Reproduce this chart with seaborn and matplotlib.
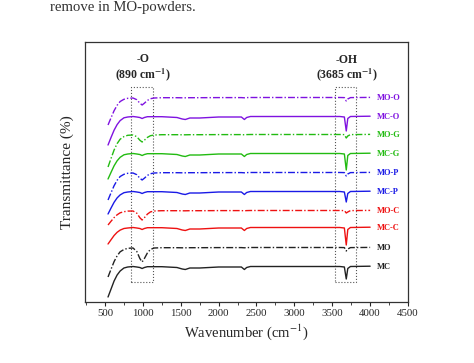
import numpy as np
import pandas as pd
import matplotlib
matplotlib.use("Agg")
import matplotlib.pyplot as plt
from matplotlib.patches import Rectangle
from matplotlib.ticker import MultipleLocator
import seaborn as sns

# wavenumber grid (cm-1) shared by all spectra
wavenumber = [540, 580, 620, 660, 700, 750, 800, 870, 920, 960, 990, 1020, 1060, 1100, 1150,
              1250, 1450, 1520, 1560, 1620, 1750, 2000, 2300, 2340, 2370, 2420, 3000, 3600,
              3660, 3685, 3705, 3740, 4000]

# stacked transmittance (arbitrary units, offset spectra)
mc = [5, 13, 21, 27, 31, 34, 35, 35.5, 35, 34.5, 33.5, 34.5, 35.3, 35.3, 35.3,
      35.3, 34.5, 33, 32.5, 34, 34, 35, 35, 32.5, 34.5, 35.5, 35.5, 35.5,
      35, 23, 33.5, 35.5, 35.8]
mo = [25, 32.8, 40.4, 46.2, 50.2, 52.5, 53.7, 54, 50.5, 43.5, 40, 43.5, 49.1, 52.6, 54,
      54.3, 54.3, 54.2, 54.2, 54.3, 54.3, 54.4, 54.4, 54.2, 54.4, 54.5, 54.5, 54.5,
      54.4, 51, 53, 54.4, 54.6]
mc_c = [58, 62.3, 66.5, 69.7, 71.9, 73.5, 74, 74.5, 74, 73.5, 72.5, 73.5, 74.3, 74.3, 74.3,
        74.3, 73.5, 72, 71.5, 73, 73, 74, 74, 71.5, 73.5, 74.5, 74.5, 74.5,
        74, 57, 72.5, 74.5, 74.8]
mo_c = [77, 80.8, 84.4, 87.2, 89.2, 90.3, 90.9, 91, 88.8, 84.3, 82, 84.3, 87.9, 90.1, 91,
        91.3, 91.3, 91.2, 91.2, 91.3, 91.3, 91.4, 91.4, 91.2, 91.4, 91.5, 91.5, 91.5,
        91.4, 89, 90, 91.4, 91.6]
mc_p = [88, 94, 99.7, 104.1, 107.1, 109.3, 110, 110.5, 110, 109.5, 108.5, 109.5, 110.3, 110.3, 110.3,
        110.3, 109.5, 108, 107.5, 109, 109, 110, 110, 107.5, 109.5, 110.5, 110.5, 110.5,
        110, 100, 108.5, 110.5, 110.8]
mo_p = [102, 109.3, 116.3, 121.7, 125.5, 127.7, 128.7, 129, 127.3, 123.8, 122, 123.8, 126.6, 128.3, 129,
        129.3, 129.3, 129.2, 129.2, 129.3, 129.3, 129.4, 129.4, 129.2, 129.4, 129.5, 129.5, 129.5,
        129.4, 126, 128, 129.4, 129.6]
mc_g = [123, 129.7, 136.2, 141.2, 144.7, 147.2, 148, 148.5, 148, 147.5, 146.5, 147.5, 148.3, 148.3, 148.3,
        148.3, 147.5, 146, 145.5, 147, 147, 148, 148, 145.5, 147.5, 148.5, 148.5, 148.5,
        148, 132, 146.5, 148.5, 148.8]
mo_g = [135, 143.6, 152, 158.4, 162.8, 165.4, 166.7, 167, 165.3, 161.8, 160, 161.8, 164.6, 166.3, 167,
        167.3, 167.3, 167.2, 167.2, 167.3, 167.3, 167.4, 167.4, 167.2, 167.4, 167.5, 167.5, 167.5,
        167.4, 164, 166, 167.4, 167.6]
mc_o = [157, 164.6, 171.8, 177.4, 181.4, 184.2, 185, 185.5, 185, 184.5, 183.5, 184.5, 185.3, 185.3, 185.3,
        185.3, 184.5, 183, 182.5, 184, 184, 185, 185, 182.5, 184.5, 185.5, 185.5, 185.5,
        185, 171, 183.5, 185.5, 185.8]
mo_o = [177, 184.3, 191.3, 196.7, 200.5, 202.7, 203.7, 204, 202.3, 198.8, 197, 198.8, 201.6, 203.3, 204,
        204.3, 204.3, 204.2, 204.2, 204.3, 204.3, 204.4, 204.4, 204.2, 204.4, 204.5, 204.5, 204.5,
        204.4, 201, 203, 204.4, 204.6]

names = ["MC", "MO", "MC-C", "MO-C", "MC-P", "MO-P", "MC-G", "MO-G", "MC-O", "MO-O"]
series = [mc, mo, mc_c, mo_c, mc_p, mo_p, mc_g, mo_g, mc_o, mo_o]
label_y = [35, 54, 74, 91, 110, 129, 148, 167, 185, 204]
colors = ["#222222", "#222222", "#ee1111", "#ee1111", "#1a1ae6", "#1a1ae6",
          "#22bb11", "#22bb11", "#7f12e0", "#7f12e0"]

sns.set_style("ticks")
plt.rcParams['font.family'] = ['Liberation Serif', 'DejaVu Serif']
plt.rcParams['mathtext.fontset'] = 'stix'

fig = plt.figure(figsize=(4.74, 3.63), dpi=100)
ax = fig.add_axes([85 / 474, 1 - 302 / 363, 323 / 474, 260 / 363])

for name, vals, col in zip(names, series, colors):
    d = pd.DataFrame({'wn': wavenumber, 't': vals})
    ls = '-' if name.startswith('MC') else (0, (5, 1.5, 1, 1.5))
    sns.lineplot(data=d, x='wn', y='t', ax=ax, color=col, linewidth=1.0, linestyle=ls)

for name, y, col in zip(names, label_y, colors):
    ax.text(4090, y, name, color=col, fontsize=6, fontweight='bold', va='center', ha='left')

# dotted boxes around the two bands
for x0, x1 in [(843, 1130), (3534, 3807)]:
    ax.add_patch(Rectangle((x0, 20), x1 - x0, 195, fill=False, edgecolor='#555555',
                           linestyle=':', linewidth=0.8))

ax.text(1000, 243, '-O', ha='center', va='center', fontsize=8.5, fontweight='bold')
ax.text(1000, 227, r'(890 cm$^{\mathbf{-1}}$)', ha='center', va='center', fontsize=8.5, fontweight='bold')
ax.text(3690, 242, '-OH', ha='center', va='center', fontsize=8.5, fontweight='bold')
ax.text(3690, 227, r'(3685 cm$^{\mathbf{-1}}$)', ha='center', va='center', fontsize=8.5, fontweight='bold')

ax.set_xlim(236, 4500)
ax.set_ylim(0, 260)
ax.xaxis.set_major_locator(MultipleLocator(500))
ax.xaxis.set_minor_locator(MultipleLocator(250))
ax.tick_params(axis='x', which='major', labelsize=7.8, length=3, width=0.8, pad=2)
ax.tick_params(axis='x', which='minor', length=2, width=0.6)
ax.set_yticks([])
ax.set_xlabel(r'Wavenumber (cm$^{-1}$)', fontsize=10.5, labelpad=3)
ax.set_ylabel('Transmittance (%)', fontsize=11, labelpad=8)
for sp in ax.spines.values():
    sp.set_visible(True)
    sp.set_linewidth(0.9)
    sp.set_color('#333333')

fig.text(50 / 474, 1 - 10.5 / 363, 'remove in MO-powders.', fontsize=10.6, color='#333333',
         va='baseline', ha='left')

fig.savefig('out.png', dpi=100)
